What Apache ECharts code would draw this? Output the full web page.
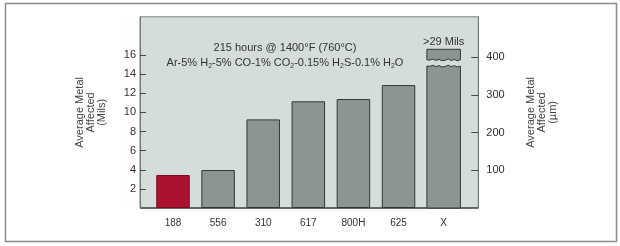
<!DOCTYPE html>
<html>
<head>
<meta charset="utf-8">
<script src="https://cdn.jsdelivr.net/npm/echarts@6/dist/echarts.min.js"></script>
<style>
html,body{margin:0;padding:0;background:#fff;}
#c{width:620px;height:246px;}
</style>
</head>
<body>
<div id="c"></div>
<script>
// ---- data ----
const categories = ['188', '556', '310', '617', '800H', '625', 'X'];
const milsAffected = [3.45, 3.97, 9.27, 11.16, 11.4, 12.86, 14.85]; // X drawn up to the break
const brokenCategory = 'X';
const brokenCap = [15.5, 16.6];          // drawn piece of X above the break (mils)
const brokenLabel = '>29 Mils';
const leftTicks = [2, 4, 6, 8, 10, 12, 14, 16];   // mils
const rightTicks = [100, 200, 300, 400];          // µm
const titleLine = '215 hours @ 1400°F (760°C)';
const gasLine = 'Ar-5% H{s|2}-5% CO-1% CO{s|2}-0.15% H{s|2}S-0.1% H{s|2}O';

const MIL_TO_UM = 25.4;
const milsMax = 20;
const FONT = 'Liberation Sans, Arial, Helvetica, sans-serif';

const brokenIdx = categories.indexOf(brokenCategory);
const barData = milsAffected.map((v, i) => {
  if (i === brokenIdx) return '-';
  if (i === 0) return { value: v, itemStyle: { color: '#ad1131', borderColor: '#7a0c22' } };
  return v;
});

const chart = echarts.init(document.getElementById('c'));
chart.setOption({
  animation: false,
  backgroundColor: '#ffffff',
  textStyle: { fontFamily: FONT },
  graphic: {
    elements: [
      { type: 'rect', z: -20, silent: true,
        shape: { x: 5.5, y: 3.5, width: 611, height: 238 },
        style: { fill: '#ffffff', stroke: '#8a8d8c', lineWidth: 1.5 } },
      { type: 'rect', z: -10, silent: true,
        shape: { x: 140, y: 16.8, width: 338.3, height: 191.2 },
        style: { fill: '#d5dddA', stroke: '#7c8482', lineWidth: 1 } },
      { type: 'line', z: -5, silent: true,
        shape: { x1: 140, y1: 208, x2: 478.3, y2: 208 },
        style: { stroke: '#4a4f4e', lineWidth: 1.5 } }
    ]
  },
  title: {
    left: 280, top: 37, textAlign: 'center', itemGap: 2,
    text: titleLine,
    textStyle: { fontFamily: FONT, fontSize: 11, fontWeight: 'normal', color: '#333' },
    subtext: gasLine,
    subtextStyle: {
      fontFamily: FONT, fontSize: 11, color: '#333', lineHeight: 15, verticalAlign: 'middle',
      rich: { s: { fontSize: 7, lineHeight: 8, verticalAlign: 'bottom', color: '#333', fontFamily: FONT } }
    }
  },
  grid: { left: 150.45, right: 153.8, top: 16.8, bottom: 38 },
  xAxis: {
    type: 'category', data: categories,
    axisLine: { show: false }, axisTick: { show: false },
    axisLabel: { color: '#333', fontSize: 10, margin: 10, fontFamily: FONT }
  },
  yAxis: [
    {
      type: 'value', min: 0, max: milsMax, position: 'left', offset: 10.45,
      name: 'Average Metal\nAffected\n(Mils)', nameLocation: 'middle', nameRotate: 90, nameGap: 33,
      nameTextStyle: { color: '#444', fontSize: 11, lineHeight: 11, fontFamily: FONT },
      axisLine: { show: true, lineStyle: { color: '#6f7775', width: 1 } },
      axisTick: { show: true, inside: true, length: 6, customValues: leftTicks, lineStyle: { color: '#444' } },
      axisLabel: { customValues: leftTicks, color: '#333', fontSize: 11, margin: 4, fontFamily: FONT },
      splitLine: { show: false }
    },
    {
      type: 'value', min: 0, max: milsMax * MIL_TO_UM, position: 'right', offset: 12.1,
      name: 'Average Metal\nAffected\n(µm)', nameLocation: 'middle', nameRotate: 90, nameGap: 47,
      nameTextStyle: { color: '#444', fontSize: 11, lineHeight: 11, fontFamily: FONT },
      axisLine: { show: true, lineStyle: { color: '#6f7775', width: 1 } },
      axisTick: { show: true, inside: true, length: 7, customValues: rightTicks, lineStyle: { color: '#444' } },
      axisLabel: { customValues: rightTicks, color: '#333', fontSize: 11, margin: 8, fontFamily: FONT },
      splitLine: { show: false }
    }
  ],
  series: [
    {
      type: 'bar', yAxisIndex: 0, barWidth: 33.5, data: barData,
      itemStyle: { color: '#8c9592', borderColor: '#323837', borderWidth: 1 }
    },
    {
      type: 'custom', yAxisIndex: 0,
      data: [[brokenIdx, milsAffected[brokenIdx], brokenCap[0], brokenCap[1]]],
      encode: { x: 0, y: [1, 2, 3] },
      renderItem: function (params, api) {
        const idx = api.value(0);
        const base = api.coord([idx, 0]);
        const cx = base[0], y0 = base[1];
        const yLow = api.coord([idx, api.value(1)])[1];
        const yCapB = api.coord([idx, api.value(2)])[1];
        const yCapT = api.coord([idx, api.value(3)])[1];
        const w = 33.5, l = cx - w / 2, r = cx + w / 2;
        const wave = [0, 0.9, -0.4, 0.7, -0.9, 0.4, 1.0, -0.5, 0.6, -0.8, 0.3, 0];
        const n = wave.length - 1;
        const lowerTop = wave.map((d, i) => [r - w * i / n, yLow + d]);
        const capBottom = wave.map((d, i) => [r - w * i / n, yCapB + d]);
        const st = { fill: '#8c9592', stroke: '#323837', lineWidth: 1 };
        return {
          type: 'group',
          children: [
            { type: 'polygon', shape: { points: [[l, y0], [r, y0]].concat(lowerTop) }, style: st },
            { type: 'polygon', shape: { points: [[l, yCapT], [r, yCapT]].concat(capBottom) }, style: st },
            { type: 'text', style: { text: brokenLabel, x: cx, y: yCapT - 2, align: 'center', verticalAlign: 'bottom',
                fill: '#333', fontSize: 11, fontFamily: FONT } }
          ]
        };
      }
    }
  ]
});
</script>
</body>
</html>
